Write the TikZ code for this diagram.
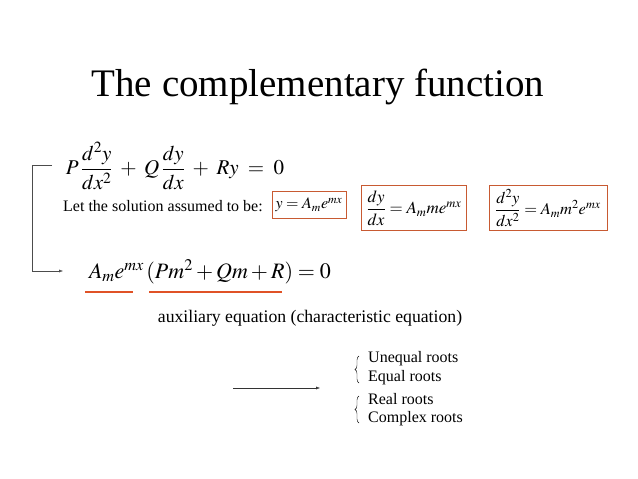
\documentclass[tikz,border=0pt]{standalone}
\usepackage{amsmath}
\usepackage{mathptmx}
\usepackage[no-math]{fontspec}
\setmainfont{Liberation Serif}
\usepackage{tikz}
\usetikzlibrary{arrows.meta}
\usetikzlibrary{decorations.pathreplacing}
\definecolor{boxRed}{RGB}{200,90,50}
\definecolor{lineRed}{RGB}{224,82,38}
\begin{document}
\begin{tikzpicture}[x=1pt,y=-1pt]
               \tikzstyle{myBox}=[draw=boxRed, line width=1pt, inner sep=2pt]
               \tikzstyle{myTxt}=[inner sep=0pt, font=\fontsize{16}{18}\selectfont]
               \tikzstyle{myEq}=[inner sep=0pt, font=\fontsize{21}{24}\selectfont]

               \useasboundingbox (0,0) rectangle (638,479);

               \node[inner sep=0pt, font=\fontsize{39}{42}\selectfont] (title) at (318,87) {The complementary function};

               \node[myEq] (eq1) at (175,166) {$P\,\dfrac{d^2y}{dx^2}\;+\;Q\,\dfrac{dy}{dx}\;+\;Ry\;=\;0$};
               \node[myTxt, anchor=west] (let) at (63,206) {Let the solution assumed to be:};
               \node[myBox, minimum width=74pt, minimum height=27pt, font=\fontsize{16}{18}\selectfont] (box1) at (309,205) {$y=A_m e^{mx}$};
               \node[myBox, minimum width=105pt, minimum height=45pt, font=\fontsize{17}{19}\selectfont] (box2) at (414,208) {$\dfrac{dy}{dx}=A_m m e^{mx}$};
               \node[myBox, minimum width=118pt, minimum height=45pt, font=\fontsize{16.5}{19}\selectfont] (box3) at (548,208) {$\dfrac{d^2y}{dx^2}=A_m m^2 e^{mx}$};

               \node[myEq, font=\fontsize{22}{24}\selectfont] (eq3) at (210,272) {$A_m e^{mx}\,(Pm^2+Qm+R)=0$};
               \node[inner sep=0pt, font=\fontsize{17.7}{20}\selectfont] (aux) at (310,318) {auxiliary equation (characteristic equation)};

               % left bracket
               \coordinate (b1) at (52,165);
               \coordinate (b2) at (63,271);
               \draw[black!70, -{Latex[length=4pt,width=3pt]}] (b1) -- (32,165) |- (b2);

               % underlines
               \draw[lineRed, line width=2.5pt] (85,292) -- (133,292);
               \draw[lineRed, line width=2.5pt] (149,292) -- (282,292);

               % roots
               \coordinate (a1) at (233,388);
               \coordinate (a2) at (320,388);
               \draw[black!80, -{Latex[length=4pt,width=3pt]}] (a1) -- (a2);

               \node[myTxt, anchor=west] (r1) at (368,359) {Unequal roots};
               \node[myTxt, anchor=west] (r2) at (368,378) {Equal roots};
               \node[myTxt, anchor=west] (r3) at (368,399) {Real roots};
               \node[myTxt, anchor=west] (r4) at (368,419) {Complex roots};
               \draw[decorate, decoration={brace, amplitude=4pt}] (359,383) -- (359,356);
               \draw[decorate, decoration={brace, amplitude=4pt}] (359,423) -- (359,396);
            \end{tikzpicture}
\end{document}
